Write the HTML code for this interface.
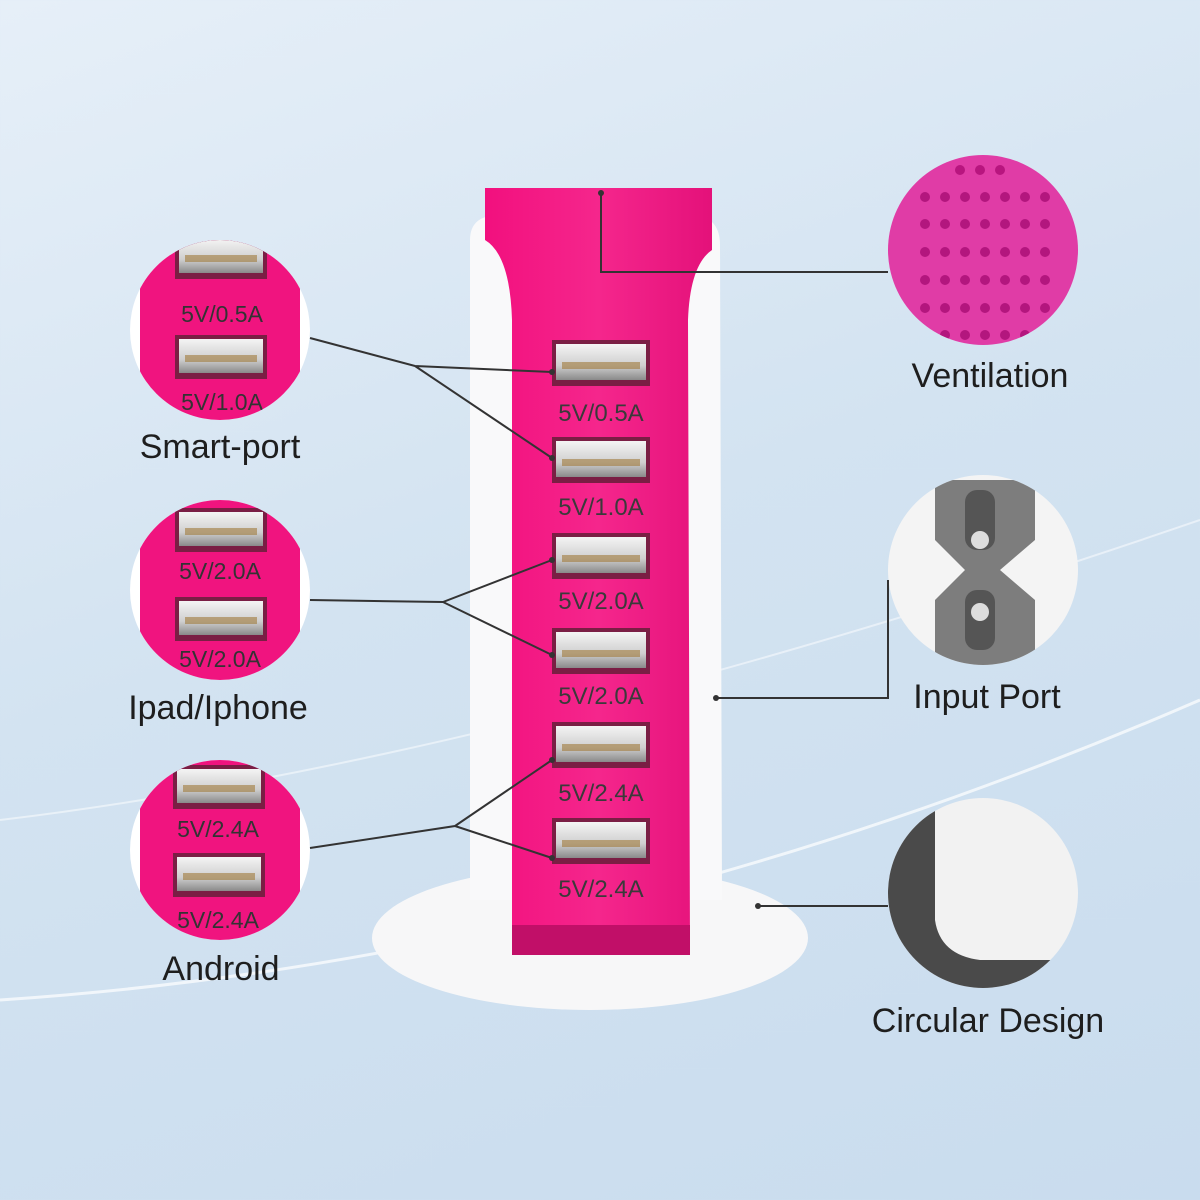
<!DOCTYPE html>
<html><head><meta charset="utf-8"><style>
html,body{margin:0;padding:0;width:1200px;height:1200px;overflow:hidden}
body{background:linear-gradient(160deg,#e6eff8 0%,#d3e3f1 45%,#c9dcee 100%);font-family:"Liberation Sans","DejaVu Sans",sans-serif}
</style></head><body>
<svg width="1200" height="1200" viewBox="0 0 1200 1200" xmlns="http://www.w3.org/2000/svg">
<defs>
<linearGradient id="pk" x1="0" x2="1"><stop offset="0" stop-color="#f2107e"/><stop offset="0.5" stop-color="#f5268c"/><stop offset="1" stop-color="#e4117a"/></linearGradient>
<linearGradient id="usb" x1="0" y1="0" x2="0" y2="1"><stop offset="0" stop-color="#f4f4f4"/><stop offset="0.6" stop-color="#cfcfcf"/><stop offset="1" stop-color="#8a8a8a"/></linearGradient>
<clipPath id="c1"><circle cx="220" cy="330" r="90"/></clipPath>
<clipPath id="c2"><circle cx="220" cy="590" r="90"/></clipPath>
<clipPath id="c3"><circle cx="220" cy="850" r="90"/></clipPath>
<clipPath id="r1"><circle cx="983" cy="250" r="95"/></clipPath>
<clipPath id="r2"><circle cx="983" cy="570" r="95"/></clipPath>
<clipPath id="r3"><circle cx="983" cy="893" r="95"/></clipPath>
<g id="port"><rect x="0" y="0" width="98" height="46" fill="#7a1e44"/><rect x="4" y="4" width="90" height="36" fill="url(#usb)"/><rect x="10" y="22" width="78" height="7" fill="#a07a3a" opacity="0.6"/></g>
<g id="sport"><rect x="0" y="0" width="92" height="44" fill="#7a1e44"/><rect x="4" y="4" width="84" height="34" fill="url(#usb)"/><rect x="10" y="20" width="72" height="7" fill="#a07a3a" opacity="0.6"/></g>
</defs>
<path d="M0 1000 Q600 960 1200 700" stroke="#fff" stroke-width="3" fill="none" opacity="0.7"/>
<path d="M0 820 Q500 760 1200 520" stroke="#fff" stroke-width="2" fill="none" opacity="0.5"/>
<!-- stand -->
<ellipse cx="590" cy="938" rx="218" ry="72" fill="#f7f7f8"/>
<path d="M470 240 Q470 215 500 215 L690 215 Q720 215 720 245 L722 900 L470 900 Z" fill="#f9f9fa"/>
<path d="M485 188 L712 188 L712 250 Q690 265 688 320 L690 950 L512 950 L512 320 Q510 255 485 240 Z" fill="url(#pk)"/>
<rect x="512" y="925" width="178" height="30" fill="#c10f68"/>
<use href="#port" x="552" y="340"/><use href="#port" x="552" y="437"/><use href="#port" x="552" y="533"/>
<use href="#port" x="552" y="628"/><use href="#port" x="552" y="722"/><use href="#port" x="552" y="818"/>
<g font-size="24" fill="#3a3a3a" text-anchor="middle" font-family="Liberation Sans,sans-serif">
<text x="601" y="421">5V/0.5A</text><text x="601" y="515">5V/1.0A</text><text x="601" y="609">5V/2.0A</text>
<text x="601" y="704">5V/2.0A</text><text x="601" y="801">5V/2.4A</text><text x="601" y="897">5V/2.4A</text>
</g>
<!-- left circles -->
<g clip-path="url(#c1)"><rect x="120" y="230" width="200" height="200" fill="#fff"/><rect x="140" y="230" width="160" height="200" fill="#f0147f"/><use href="#sport" x="175" y="245" transform="translate(0,-10)"/><use href="#sport" x="175" y="335"/><text x="222" y="322" font-size="23" fill="#333" text-anchor="middle">5V/0.5A</text><text x="222" y="410" font-size="23" fill="#333" text-anchor="middle">5V/1.0A</text></g>
<g clip-path="url(#c2)"><rect x="120" y="490" width="200" height="200" fill="#fff"/><rect x="140" y="490" width="160" height="200" fill="#f0147f"/><use href="#sport" x="175" y="508"/><use href="#sport" x="175" y="597"/><text x="220" y="579" font-size="23" fill="#333" text-anchor="middle">5V/2.0A</text><text x="220" y="667" font-size="23" fill="#333" text-anchor="middle">5V/2.0A</text></g>
<g clip-path="url(#c3)"><rect x="120" y="750" width="200" height="200" fill="#fff"/><rect x="140" y="750" width="160" height="200" fill="#f0147f"/><use href="#sport" x="173" y="765"/><use href="#sport" x="173" y="853"/><text x="218" y="837" font-size="23" fill="#333" text-anchor="middle">5V/2.4A</text><text x="218" y="928" font-size="23" fill="#333" text-anchor="middle">5V/2.4A</text></g>
<!-- right circles -->
<g clip-path="url(#r1)"><rect x="880" y="150" width="210" height="200" fill="#e03ca6"/>
<g fill="#b8157f">
<circle cx="960" cy="170" r="5"/><circle cx="980" cy="170" r="5"/><circle cx="1000" cy="170" r="5"/>
</g>
<g fill="#b8157f" id="dots"></g>
</g>
<g clip-path="url(#r1)" fill="#b3167e">
<script>/* no */</script>
</g>
<g clip-path="url(#r1)" fill="#b3167e">
<circle cx="925" cy="197" r="5"/><circle cx="945" cy="197" r="5"/><circle cx="965" cy="197" r="5"/><circle cx="985" cy="197" r="5"/><circle cx="1005" cy="197" r="5"/><circle cx="1025" cy="197" r="5"/><circle cx="1045" cy="197" r="5"/>
<circle cx="925" cy="224" r="5"/><circle cx="945" cy="224" r="5"/><circle cx="965" cy="224" r="5"/><circle cx="985" cy="224" r="5"/><circle cx="1005" cy="224" r="5"/><circle cx="1025" cy="224" r="5"/><circle cx="1045" cy="224" r="5"/>
<circle cx="925" cy="252" r="5"/><circle cx="945" cy="252" r="5"/><circle cx="965" cy="252" r="5"/><circle cx="985" cy="252" r="5"/><circle cx="1005" cy="252" r="5"/><circle cx="1025" cy="252" r="5"/><circle cx="1045" cy="252" r="5"/>
<circle cx="925" cy="280" r="5"/><circle cx="945" cy="280" r="5"/><circle cx="965" cy="280" r="5"/><circle cx="985" cy="280" r="5"/><circle cx="1005" cy="280" r="5"/><circle cx="1025" cy="280" r="5"/><circle cx="1045" cy="280" r="5"/>
<circle cx="925" cy="308" r="5"/><circle cx="945" cy="308" r="5"/><circle cx="965" cy="308" r="5"/><circle cx="985" cy="308" r="5"/><circle cx="1005" cy="308" r="5"/><circle cx="1025" cy="308" r="5"/><circle cx="1045" cy="308" r="5"/>
<circle cx="945" cy="335" r="5"/><circle cx="965" cy="335" r="5"/><circle cx="985" cy="335" r="5"/><circle cx="1005" cy="335" r="5"/><circle cx="1025" cy="335" r="5"/>
</g>
<g clip-path="url(#r2)"><rect x="880" y="470" width="210" height="200" fill="#f4f4f4"/>
<path d="M935 480 L1035 480 L1035 540 L1000 570 L1035 600 L1035 665 L935 665 L935 600 L965 570 L935 540 Z" fill="#7d7d7d"/>
<rect x="965" y="490" width="30" height="60" rx="12" fill="#555"/><circle cx="980" cy="540" r="9" fill="#ddd"/>
<rect x="965" y="590" width="30" height="60" rx="12" fill="#555"/><circle cx="980" cy="612" r="9" fill="#ddd"/></g>
<g clip-path="url(#r3)"><rect x="880" y="790" width="210" height="210" fill="#f2f2f2"/>
<path d="M880 790 L935 790 L935 920 Q940 955 980 960 L1090 960 L1090 1000 L880 1000 Z" fill="#4a4a4a"/></g>
<!-- lines -->
<g stroke="#333" stroke-width="2" fill="none">
<path d="M310 338 L415 366 L552 372 M415 366 L552 458"/>
<path d="M310 600 L443 602 L552 560 M443 602 L552 655"/>
<path d="M310 848 L455 826 L552 760 M455 826 L552 858"/>
<path d="M601 193 L601 272 L888 272"/>
<path d="M716 698 L888 698 L888 580"/>
<path d="M758 906 L888 906"/>
</g>
<g fill="#333"><circle cx="552" cy="372" r="3"/><circle cx="552" cy="458" r="3"/><circle cx="552" cy="560" r="3"/><circle cx="552" cy="655" r="3"/><circle cx="552" cy="760" r="3"/><circle cx="552" cy="858" r="3"/><circle cx="601" cy="193" r="3"/><circle cx="716" cy="698" r="3"/><circle cx="758" cy="906" r="3"/></g>
<g font-size="34" fill="#1e1e1e" text-anchor="middle" font-family="Liberation Sans,sans-serif">
<text x="220" y="458">Smart-port</text><text x="218" y="719">Ipad/Iphone</text><text x="221" y="980">Android</text>
<text x="990" y="387">Ventilation</text><text x="987" y="708">Input Port</text><text x="988" y="1032">Circular Design</text>
</g>
</svg>
</body></html>
